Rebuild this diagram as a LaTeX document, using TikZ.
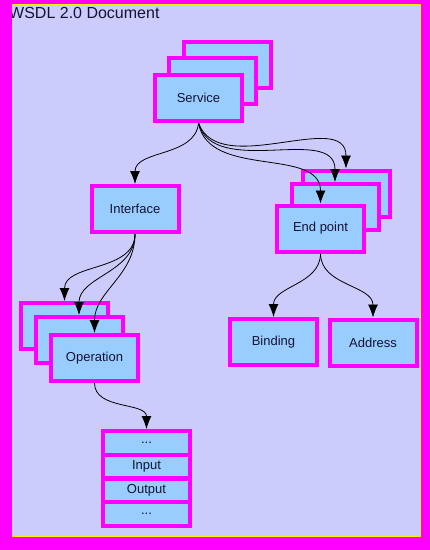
\documentclass[tikz,border=0pt]{standalone}
\usepackage{fontspec}
\setmainfont{Liberation Sans}
\usetikzlibrary{arrows.meta}
\definecolor{docbg}{RGB}{204,204,252}
\definecolor{boxfill}{RGB}{153,204,255}
\definecolor{rim}{RGB}{255,0,255}
\definecolor{ink}{RGB}{20,20,50}
\begin{document}
\begin{tikzpicture}[x=1pt,y=-1pt]


\tikzset{Box/.style = {draw=rim, fill=boxfill, line width=4pt, minimum width=87pt, minimum height=46pt, inner sep=0pt, text=ink, font=\fontsize{13}{15}\selectfont}}
\tikzset{Cell/.style = {Box, minimum height=23.75pt}}
\tikzset{Link/.style = {draw=black, line width=0.8pt, -{Latex[length=13pt,width=10pt]}}}

\useasboundingbox (0,0) rectangle (430,550);
\fill[rim] (0,0) rectangle (430,550);
\fill[docbg] (12,4) rectangle (421,537);
\draw[yellow, line width=1pt] (12,4.5) -- (420.5,4.5) -- (420.5,536.5) -- (12,536.5);
\begin{scope}
\clip (12,4) rectangle (421,537);
\node[anchor=base west, inner sep=0pt, text=ink, font=\fontsize{16}{19}\selectfont] (doc) at (9,18.3) {WSDL 2.0 Document};
\end{scope}

\node[Box] (svc3) at (227,64.5) {};
\node[Box] (svc2) at (212.5,81) {};
\node[Box] (svc) at (198.5,98) {Service};
\node[Box] (iface) at (135,209) {Interface};
\node[Box] (ep3) at (346,193.5) {};
\node[Box] (ep2) at (335,207) {};
\node[Box] (ep) at (320.5,228.5) {End point};
\node[Box] (op3) at (64.5,326) {};
\node[Box] (op2) at (79,340) {};
\node[Box] (op) at (94.5,358) {Operation};
\node[Box] (bind) at (273.5,342) {Binding};
\node[Box] (addr) at (373,342.5) {Address};
\node[Cell] (rec1) at (146.5,442.9) {...};
\node[Cell] (rec2) at (146.5,466.6) {Input};
\node[Cell] (rec3) at (146.5,490.4) {Output};
\node[Cell] (rec4) at (146.5,514.1) {...};

\draw[Link] (svc.south) to[out=-95,in=90] (iface.north);
\draw[Link] (svc.south) to[out=-70,in=90] (ep3.north);
\draw[Link] (svc.south) to[out=-75,in=90] (ep2.north);
\draw[Link] (svc.south) to[out=-80,in=90] (ep.north);
\draw[Link] (iface.south) to[out=-90,in=90] (op3.north);
\draw[Link] (iface.south) to[out=-90,in=90] (op2.north);
\draw[Link] (iface.south) to[out=-90,in=90] (op.north);
\draw[Link] (op.south) to[out=-90,in=90] (rec1.north);
\draw[Link] (ep.south) to[out=-90,in=90] (bind.north);
\draw[Link] (ep.south) to[out=-90,in=90] (addr.north);

\end{tikzpicture}
\end{document}
